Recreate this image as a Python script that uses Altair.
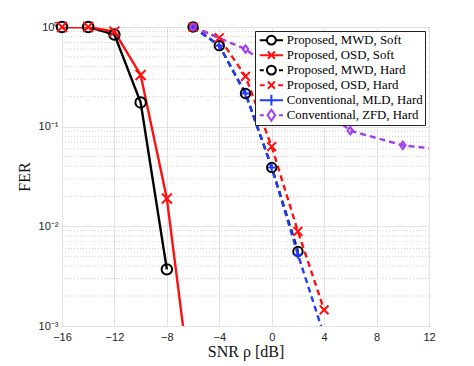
import altair as alt
import pandas as pd

series_names = [
    "Proposed, MWD, Soft",
    "Proposed, OSD, Soft",
    "Proposed, MWD, Hard",
    "Proposed, OSD, Hard",
    "Conventional, MLD, Hard",
    "Conventional, ZFD, Hard",
]
series_colors = ["#000000", "#ff1010", "#000000", "#ff1010", "#1f3cff", "#a23cf0"]

x_mwd_soft = [-16, -14, -12, -10, -8]
mwd_soft = [1.0, 1.0, 0.84, 0.175, 0.0037]
x_osd_soft = [-16, -14, -12, -10, -8, -6]
osd_soft = [1.0, 1.0, 0.9, 0.33, 0.019, 0.00016]
x_mwd_hard = [-6, -4, -2, 0, 2]
mwd_hard = [1.0, 0.65, 0.215, 0.039, 0.0056]
x_osd_hard = [-6, -4, -2, 0, 2, 4]
osd_hard = [1.0, 0.78, 0.32, 0.063, 0.0089, 0.00145]
x_mld_hard = [-6, -4, -2, 0, 2, 4]
mld_hard = [1.0, 0.65, 0.215, 0.039, 0.0052, 0.0008]
x_zfd_hard = [-6, -2, 2, 6, 10, 14]
zfd_hard = [1.0, 0.6, 0.24, 0.091, 0.065, 0.057]

x_ticks = [-16, -12, -8, -4, 0, 4, 8, 12]
y_ticks = [0.001, 0.01, 0.1, 1]
minor_y = [m * d for d in [0.001, 0.01, 0.1] for m in range(2, 10)]

rows = []
for name, xs, ys in zip(
    series_names,
    [x_mwd_soft, x_osd_soft, x_mwd_hard, x_osd_hard, x_mld_hard, x_zfd_hard],
    [mwd_soft, osd_soft, mwd_hard, osd_hard, mld_hard, zfd_hard],
):
    for i, (a, b) in enumerate(zip(xs, ys)):
        rows.append({"series": name, "SNR": a, "FER": b, "idx": i})
df = pd.DataFrame(rows)

plain_shapes = [
    "circle",
    "M-1,-1L1,1M-1,1L1,-1",
    "circle",
    "M-1,-1L1,1M-1,1L1,-1",
    "M-1,0L1,0M0,-1L0,1",
    "M0,-1L0.75,0L0,1L-0.75,0Z",
]
marker_sizes = [110, 55, 110, 55, 150, 170]
legend_shapes = [
    "M-2.6,0L-1,0M1,0L2.6,0M-1,0A1,1 0 1,1 1,0A1,1 0 1,1 -1,0",
    "M-2.6,0L2.6,0M-0.8,-0.8L0.8,0.8M-0.8,0.8L0.8,-0.8",
    "M-2.6,0L-1.7,0M-1,0A1,1 0 1,1 1,0A1,1 0 1,1 -1,0M1.7,0L2.6,0",
    "M-2.6,0L-1.5,0M1.5,0L2.6,0M-0.8,-0.8L0.8,0.8M-0.8,0.8L0.8,-0.8",
    "M-2.6,0L2.6,0M0,-1.2L0,1.2",
    "M-2.6,0L-1.7,0M1.7,0L2.6,0M0,-1.2L0.85,0L0,1.2L-0.85,0Z",
]
dashes = [[1, 0], [1, 0], [6, 4], [6, 4], [6, 4], [6, 4]]

xscale = alt.Scale(domain=[-16, 12], nice=False, zero=False)
yscale = alt.Scale(type="log", domain=[0.001, 1], nice=False)
label_expr = ("datum.value >= 1 ? '10⁰' : datum.value >= 0.1 ? '10⁻¹' : "
              "datum.value >= 0.01 ? '10⁻²' : '10⁻³'")

x_axis = alt.Axis(values=x_ticks, title="SNR ρ [dB]", grid=True, ticks=False, labelPadding=5,
                  titlePadding=1, domain=False, labelFlush=False)
y_axis = alt.Axis(values=y_ticks, title="FER", grid=True, ticks=False, labelExpr=label_expr,
                  labelPadding=4, titlePadding=6, domain=False, labelFlush=False)

minor = alt.Chart(pd.DataFrame({"m": minor_y})).mark_rule(
    color="#cfcfcf", strokeDash=[1, 2], strokeWidth=1
).encode(y=alt.Y("m:Q", scale=yscale, axis=y_axis))

color_main = alt.Color("series:N", scale=alt.Scale(domain=series_names, range=series_colors), legend=None)

lines = alt.Chart(df).mark_line(clip=True, strokeWidth=2.4).encode(
    x=alt.X("SNR:Q", scale=xscale, axis=x_axis),
    y=alt.Y("FER:Q", scale=yscale, axis=y_axis),
    color=color_main,
    strokeDash=alt.StrokeDash("series:N", scale=alt.Scale(domain=series_names, range=dashes), legend=None),
    detail="series:N", order="idx:Q",
)

points = alt.Chart(df).transform_filter(
    "datum.FER >= 0.001 && datum.SNR <= 12"
).mark_point(filled=False, strokeWidth=2, opacity=1).encode(
    x=alt.X("SNR:Q", scale=xscale, axis=x_axis),
    y=alt.Y("FER:Q", scale=yscale, axis=y_axis),
    color=color_main,
    shape=alt.Shape("series:N", scale=alt.Scale(domain=series_names, range=plain_shapes), legend=None),
    size=alt.Size("series:N", scale=alt.Scale(domain=series_names, range=marker_sizes), legend=None),
)

leg = alt.Legend(title=None, labelFont="Liberation Serif", labelFontSize=12.8)
legend_layer = alt.Chart(df).transform_filter("datum.FER < 0").mark_point(
    filled=False, strokeWidth=2, opacity=1
).encode(
    x=alt.X("SNR:Q", scale=xscale, axis=x_axis),
    y=alt.Y("FER:Q", scale=yscale, axis=y_axis),
    color=alt.Color("series:N", scale=alt.Scale(domain=series_names, range=series_colors), legend=leg),
    shape=alt.Shape("series:N", scale=alt.Scale(domain=series_names, range=legend_shapes), legend=leg),
)

chart = alt.layer(minor, lines, points, legend_layer).resolve_scale(
    color="independent", shape="independent", size="independent", strokeDash="independent"
).properties(
    width=367, height=299,
    autosize=alt.AutoSizeParams(type="none"),
    padding={"left": 54, "top": 19, "right": 37, "bottom": 40},
).configure_view(
    stroke="#555555", strokeWidth=1
).configure_axis(
    labelFont="Liberation Sans", labelFontSize=11, labelColor="#222222",
    titleFont="Liberation Serif", titleFontSize=16, titleFontWeight="normal", titleColor="#111111",
    gridColor="#e2e2e2", gridWidth=1,
).configure_legend(
    orient="top-right", offset=4, fillColor="white", strokeColor="#222222",
    padding=2, labelFont="Liberation Serif", labelFontSize=12.8, labelColor="#000000",
    symbolSize=80, symbolStrokeWidth=2, symbolOpacity=1, rowPadding=0, clipHeight=14.3,
    labelOffset=9, symbolOffset=8, cornerRadius=0,
)

chart.save("out.html", embed_options={"renderer": "svg", "actions": False})
